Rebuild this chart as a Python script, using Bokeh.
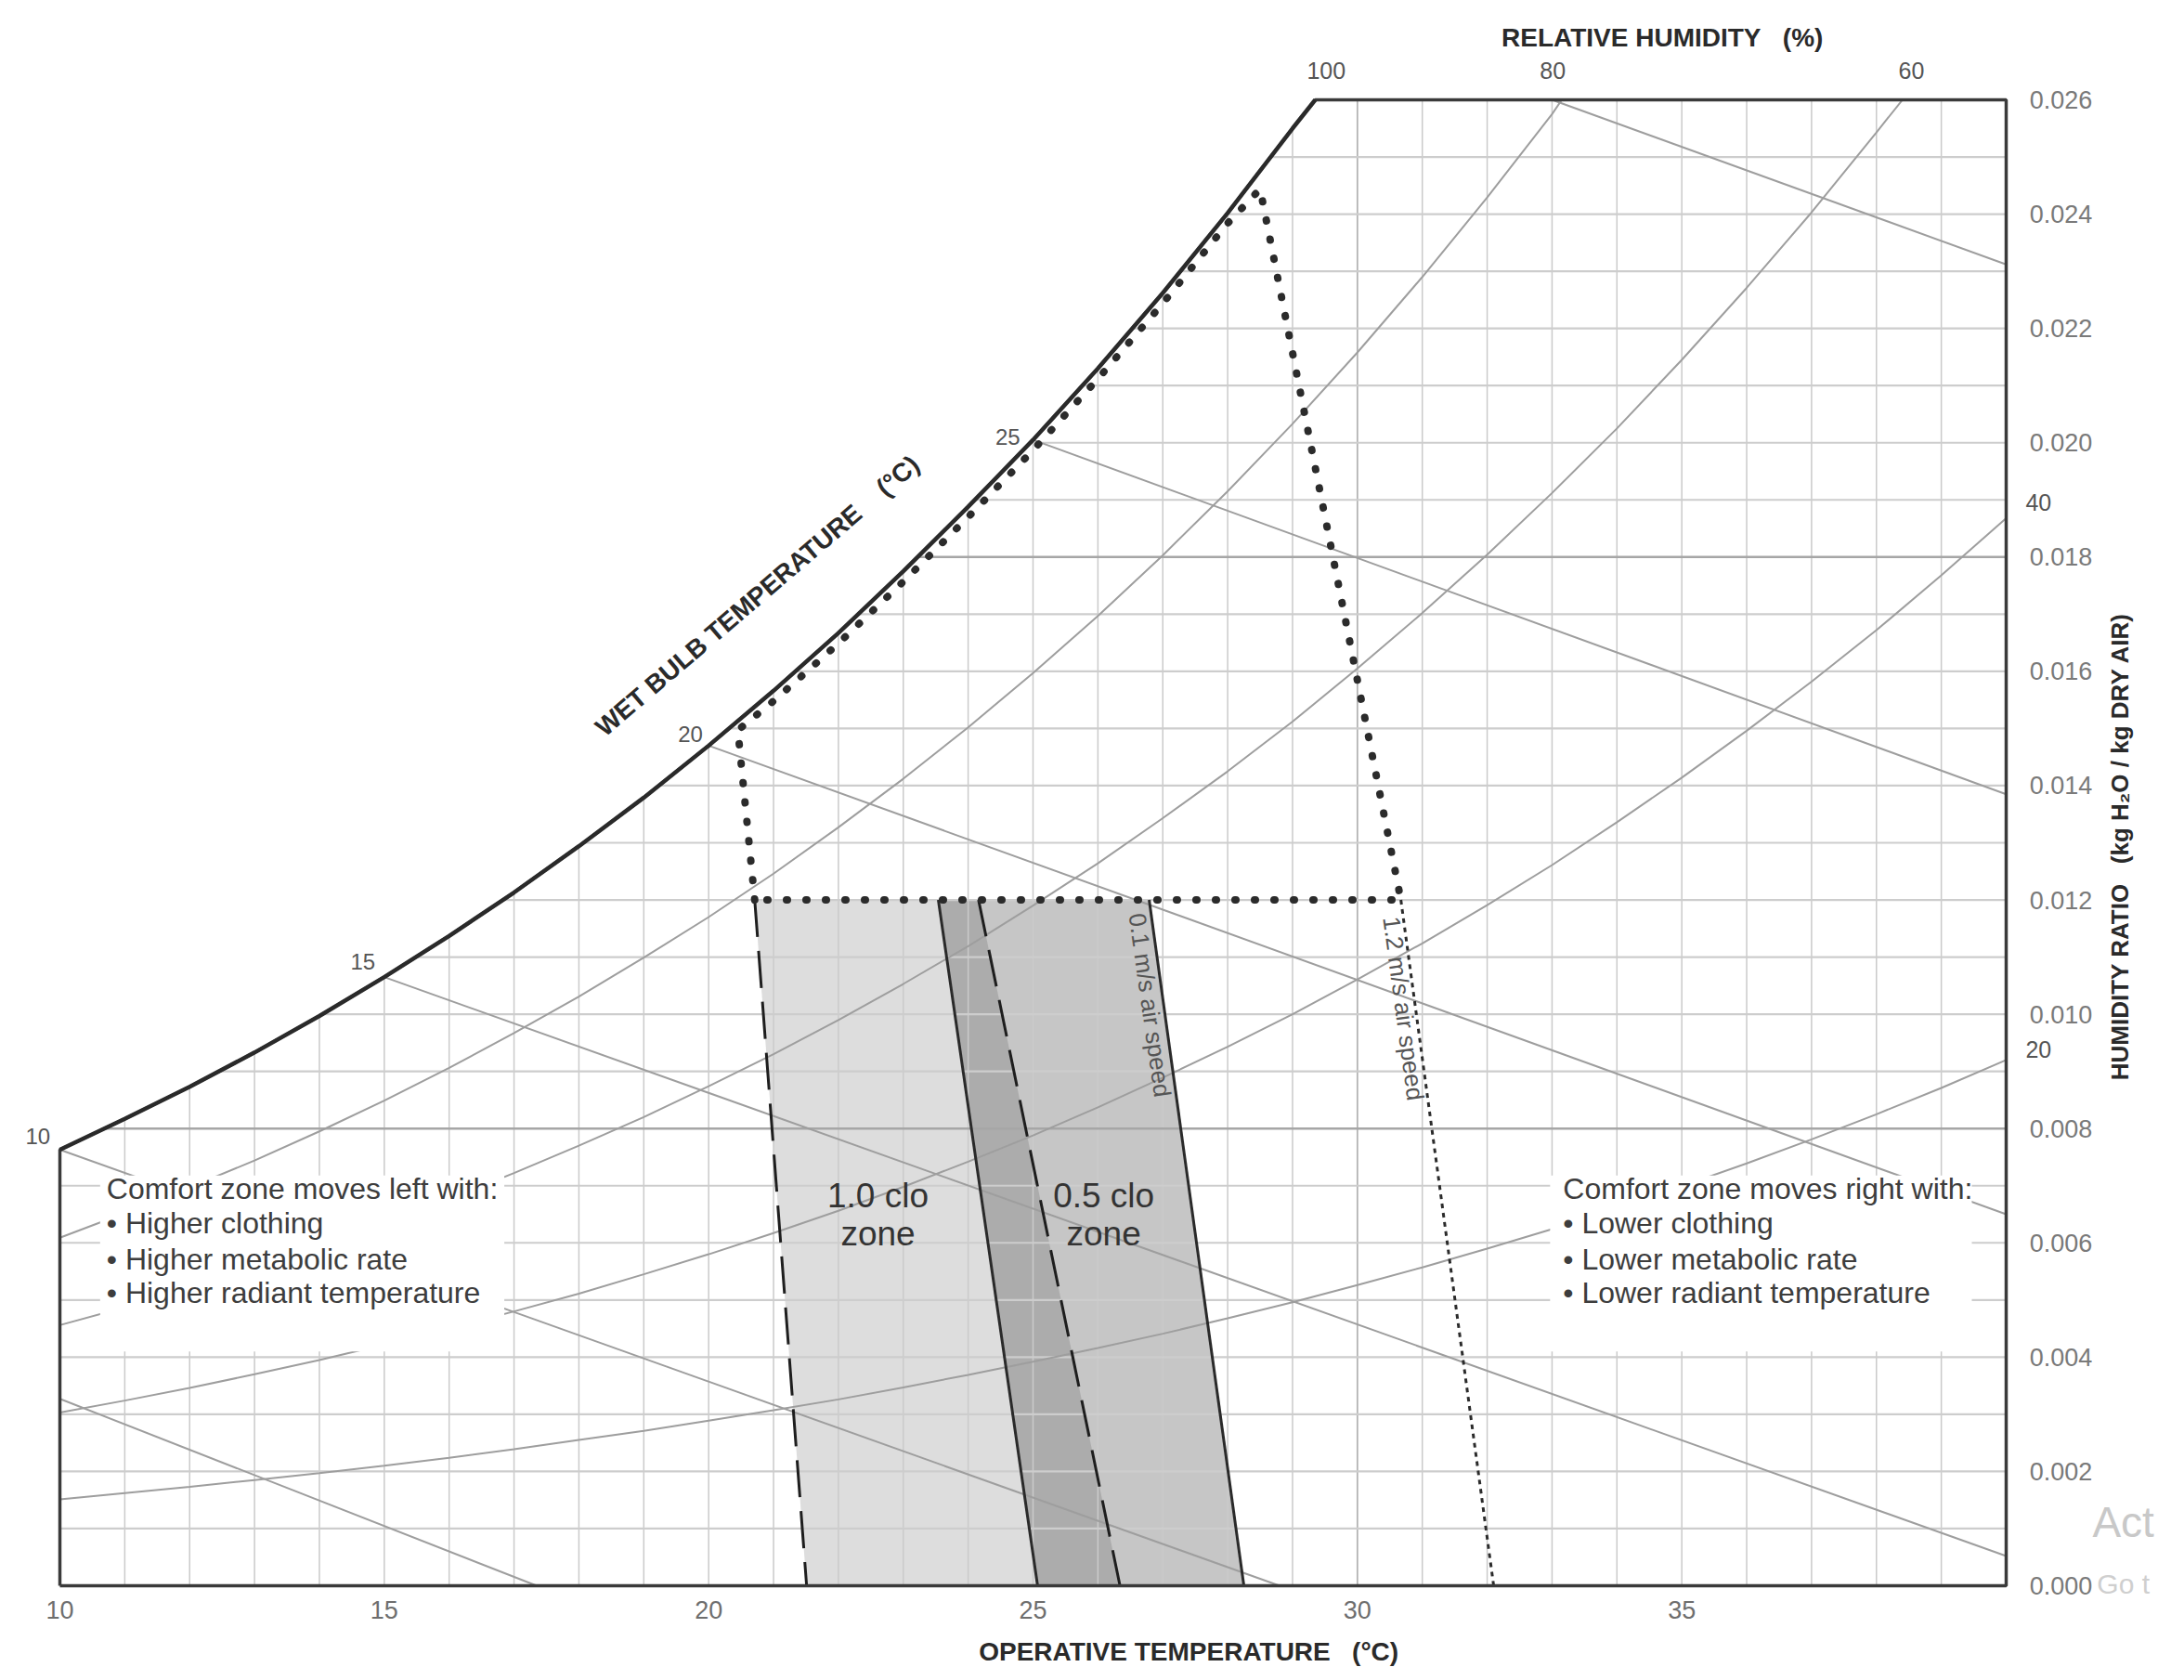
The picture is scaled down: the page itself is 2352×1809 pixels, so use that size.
import numpy as np
from bokeh.plotting import figure
from bokeh.models import Range1d
from bokeh.core.properties import value
from bokeh.embed import file_html
from bokeh.resources import INLINE

# ---------------- values ----------------
temps = [10, 11, 12, 13, 14, 15, 16, 17, 18, 19, 20, 21, 22, 23, 24, 25,
         26, 27, 28, 29, 30, 31, 32, 33, 34, 35, 36, 37, 38, 39, 40]

# relative humidity curves (operative temperature degC, humidity ratio kg/kg)
rh100_T = temps[:20] + [29.35]
rh100_w = [0.00763, 0.00817, 0.00873, 0.00933, 0.00997, 0.01065, 0.01137, 0.01213,
           0.01294, 0.01379, 0.01470, 0.01566, 0.01667, 0.01775, 0.01888, 0.02005,
           0.02130, 0.02262, 0.02402, 0.02550, 0.02600]
rh80_T = temps[:24] + [33.15]
rh80_w = [0.00609, 0.00652, 0.00697, 0.00744, 0.00795, 0.00849, 0.00906, 0.00967,
          0.01031, 0.01099, 0.01170, 0.01246, 0.01327, 0.01412, 0.01502, 0.01597,
          0.01697, 0.01803, 0.01915, 0.02033, 0.02158, 0.02290, 0.02429, 0.02575, 0.02600]
rh60_T = temps[:29] + [38.4]
rh60_w = [0.00456, 0.00487, 0.00521, 0.00557, 0.00595, 0.00635, 0.00677, 0.00722,
          0.00770, 0.00820, 0.00874, 0.00930, 0.00990, 0.01053, 0.01119, 0.01190,
          0.01264, 0.01343, 0.01425, 0.01512, 0.01605, 0.01702, 0.01804, 0.01912,
          0.02025, 0.02145, 0.02271, 0.02403, 0.02543, 0.02600]
rh40_T = temps
rh40_w = [0.00303, 0.00324, 0.00346, 0.00370, 0.00395, 0.00422, 0.00450, 0.00480,
          0.00511, 0.00545, 0.00580, 0.00617, 0.00656, 0.00698, 0.00742, 0.00788,
          0.00837, 0.00889, 0.00943, 0.01000, 0.01061, 0.01124, 0.01191, 0.01261,
          0.01336, 0.01414, 0.01496, 0.01582, 0.01672, 0.01768, 0.01868]
rh20_T = temps
rh20_w = [0.00151, 0.00162, 0.00173, 0.00185, 0.00197, 0.00210, 0.00224, 0.00239,
          0.00255, 0.00271, 0.00289, 0.00307, 0.00326, 0.00347, 0.00369, 0.00392,
          0.00416, 0.00441, 0.00468, 0.00496, 0.00526, 0.00557, 0.00590, 0.00624,
          0.00661, 0.00699, 0.00739, 0.00781, 0.00825, 0.00871, 0.00920]

# wet bulb lines: start and end points
wb_T0 = [10.0, 10.0, 15.0, 20.0, 25.0, 33.0]
wb_w0 = [0.00327, 0.00763, 0.01065, 0.01470, 0.02005, 0.02600]
wb_T1 = [17.35, 28.8, 40.0, 40.0, 40.0, 40.0]
wb_w1 = [0.0, 0.0, 0.00052, 0.00650, 0.01385, 0.02312]
wb_labels = ["10", "15", "20", "25"]
wb_label_T = [9.66, 14.67, 19.72, 24.61]
wb_label_w = [0.00787, 0.01092, 0.01490, 0.02010]

# comfort zones: temperature of each boundary at w = 0.012 (top) and w = 0 (bottom)
zone_w = [0.012, 0.0]
clo10_left = [20.71, 21.51]
clo10_right = [24.16, 26.34]
clo05_left = [23.54, 25.07]
clo05_right = [26.79, 28.25]

# elevated air speed boundary (thick dots) and 1.2 m/s line (fine dots)
ext_T = [20.71, 20.45, 21.0, 22.0, 23.0, 24.0, 25.0, 26.0, 27.0, 28.0, 28.5, 30.67, 20.71]
ext_w = [0.0120, 0.01497, 0.01548, 0.01649, 0.01757, 0.01870, 0.01987, 0.02112,
         0.02244, 0.02384, 0.02444, 0.0120, 0.0120]
fast_T = [30.67, 32.10]
fast_w = [0.0120, 0.0]

# axes / ticks
x_ticks = [10, 15, 20, 25, 30, 35]
y_ticks = [0.000, 0.002, 0.004, 0.006, 0.008, 0.010, 0.012, 0.014,
           0.016, 0.018, 0.020, 0.022, 0.024, 0.026]
grid_T = temps[1:30]
grid_w = [0.001, 0.002, 0.003, 0.004, 0.005, 0.006, 0.007, 0.008, 0.009, 0.010,
          0.011, 0.012, 0.013, 0.014, 0.015, 0.016, 0.017, 0.018, 0.019, 0.020,
          0.021, 0.022, 0.023, 0.024, 0.025]
grid_w_strong = [0.008, 0.018]
grid_T_strong = [30]
rh_top_labels = ["100", "80", "60"]
rh_top_T = [29.52, 33.01, 38.54]
rh_right_labels = ["40", "20"]
rh_right_w = [0.01896, 0.00938]

left_lines = ["Comfort zone moves left with:", "\u2022 Higher clothing",
              "\u2022 Higher metabolic rate", "\u2022 Higher radiant temperature"]
right_lines = ["Comfort zone moves right with:", "\u2022 Lower clothing",
               "\u2022 Lower metabolic rate", "\u2022 Lower radiant temperature"]
line_w = [0.00694, 0.00634, 0.00572, 0.00512]

# ---------------- figure ----------------
p = figure(width=2336, height=1805,
           x_range=Range1d(9.08398, 42.51900), y_range=Range1d(-0.0015925, 0.0277388),
           x_axis_type=None, y_axis_type=None, output_backend="svg",
           toolbar_location=None, min_border=0)
p.outline_line_color = None
p.background_fill_color = "white"
p.border_fill_color = "white"

FONT = value("Liberation Sans")
SP = "\u00a0"

# zone fills
def quad(left, right):
    return [left[0], right[0], right[1], left[1]], [zone_w[0], zone_w[0], zone_w[1], zone_w[1]]

xs, ys = quad(clo10_left, clo10_right)
p.patch(xs, ys, fill_color="#dddddd", line_color=None)
xs, ys = quad(clo05_left, clo05_right)
p.patch(xs, ys, fill_color="#c6c6c6", line_color=None)
xs, ys = quad(clo05_left, clo10_right)
p.patch(xs, ys, fill_color="#acacac", line_color=None)

# grid clipped by the saturation curve
sat_T = np.array(rh100_T)
sat_w = np.array(rh100_w)
vx, vy, vcol, vwid = [], [], [], []
for t in grid_T:
    top = float(min(np.interp(t, sat_T, sat_w), 0.026))
    vx.append([t, t]); vy.append([0.0, top])
    strong = t in grid_T_strong
    vcol.append("#b4b4b4" if strong else "#cacaca")
    vwid.append(1.8 if strong else 1.5)
p.multi_line(vx, vy, line_color=vcol, line_width=vwid)

hx, hy, hcol, hwid = [], [], [], []
for w in grid_w:
    start = float(np.interp(w, sat_w, sat_T)) if w > sat_w[0] else 10.0
    hx.append([start, 40.0]); hy.append([w, w])
    strong = w in grid_w_strong
    hcol.append("#a6a6a6" if strong else "#cdcdcd")
    hwid.append(2.6 if strong else 2.2)
p.multi_line(hx, hy, line_color=hcol, line_width=hwid)

# RH curves
for T, W in [(rh80_T, rh80_w), (rh60_T, rh60_w), (rh40_T, rh40_w), (rh20_T, rh20_w)]:
    p.line(T, W, line_color="#9e9e9e", line_width=2)
# wet bulb lines
p.segment(x0=wb_T0, y0=wb_w0, x1=wb_T1, y1=wb_w1, line_color="#9e9e9e", line_width=2)

# white text boxes
p.quad(left=[10.62, 32.97], right=[16.85, 39.47], bottom=[0.0041, 0.0041], top=[0.00718, 0.00718],
       fill_color="white", line_color=None)

# zone boundaries
p.segment(x0=[clo10_left[0], clo10_right[0]], y0=[zone_w[0]] * 2,
          x1=[clo10_left[1], clo10_right[1]], y1=[zone_w[1]] * 2,
          line_color="#1e1e1e", line_width=3, line_dash="40 15")
p.segment(x0=[clo05_left[0], clo05_right[0]], y0=[zone_w[0]] * 2,
          x1=[clo05_left[1], clo05_right[1]], y1=[zone_w[1]] * 2,
          line_color="#2a2a2a", line_width=3)

# elevated air speed boundaries
p.line(ext_T, ext_w, line_color="#2b2b2b", line_width=8, line_dash="1 20", line_cap="round")
p.line(fast_T, fast_w, line_color="#2b2b2b", line_width=3, line_dash="5 5")

# chart border
p.line([10.0] + rh100_T + [40.0, 40.0, 10.0], [0.0] + rh100_w + [0.026, 0.0, 0.0],
       line_color="#3a3a3a", line_width=3.5)
p.line(rh100_T, rh100_w, line_color="#2a2a2a", line_width=4.5)

# ---------------- texts ----------------
def txt(x, y, s, size, color, align="center", baseline="middle", angle=0.0, bold=False):
    p.text(x=x, y=y, text=s, text_font=FONT, text_font_size=f"{size}px",
           text_color=color, text_align=align, text_baseline=baseline,
           angle=angle, angle_units="deg", text_font_style="bold" if bold else "normal")

txt(x_ticks, [-0.00042] * len(x_ticks), [str(t) for t in x_ticks], 27, "#6e6e6e")
txt([40.36] * len(y_ticks), y_ticks, [f"{v:.3f}" for v in y_ticks], 27, "#7a7a7a", align="left")
txt(rh_top_T, [0.02652] * 3, rh_top_labels, 25, "#555555")
txt([40.30] * 2, rh_right_w, rh_right_labels, 25, "#555555", align="left")
txt(wb_label_T, wb_label_w, wb_labels, 24, "#555555")

txt([34.70], [0.02709], ["RELATIVE HUMIDITY" + SP * 3 + "(%)"], 28, "#2a2a2a", bold=True)
txt([27.40], [-0.00115], ["OPERATIVE TEMPERATURE" + SP * 3 + "(\u00b0C)"], 28, "#2a2a2a", bold=True)
txt([20.75], [0.01732], ["WET BULB TEMPERATURE" + SP * 4 + "(\u00b0C)"], 28, "#2a2a2a",
    bold=True, angle=40.5)
txt([41.76], [0.01294], ["HUMIDITY RATIO" + SP * 3 + "(kg H\u2082O / kg DRY AIR)"], 26, "#2a2a2a",
    bold=True, angle=90)

txt([22.61, 22.61, 26.09, 26.09], [0.00683, 0.00616, 0.00683, 0.00616],
    ["1.0 clo", "zone", "0.5 clo", "zone"], 37, "#333333")
txt([26.80], [0.01016], ["0.1 m/s air speed"], 26, "#555555", angle=-82.0)
txt([30.71], [0.01010], ["1.2 m/s air speed"], 26, "#555555", angle=-82.4)

txt([10.72] * 4, line_w, left_lines, 32, "#3d3d3d", align="left")
txt([33.17] * 4, line_w, right_lines, 32, "#3d3d3d", align="left")

txt([41.33], [0.00112], ["Act"], 46, "#c8c8c8", align="left")
txt([41.40], [0.00003], ["Go t"], 30, "#cfcfcf", align="left")

open("out.html", "w").write(file_html(p, INLINE))
